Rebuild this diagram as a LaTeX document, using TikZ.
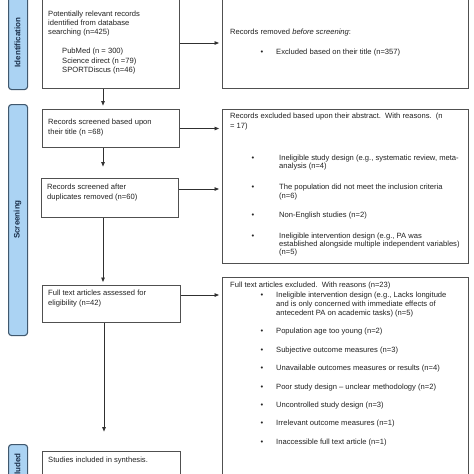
\documentclass[tikz,border=0pt]{standalone}
\usepackage{fontspec}
\setmainfont{Liberation Sans}
\usetikzlibrary{arrows.meta}
\definecolor{tabfill}{HTML}{ABD3F3}
\definecolor{tabline}{HTML}{40586E}
\definecolor{tabtext}{HTML}{1B2F4A}
\definecolor{boxline}{HTML}{505050}
\definecolor{arrowc}{HTML}{303030}
\definecolor{txtc}{HTML}{222222}
\begin{document}
\begin{tikzpicture}[x=1pt,y=-1pt,
  box/.style={draw=boxline, line width=1pt, fill=white, inner sep=0pt, anchor=north west},
  tabbox/.style={draw=tabline, fill=tabfill, line width=1.1pt, rounded corners=3pt, inner sep=0pt, anchor=north west, minimum width=19pt},
  tablabel/.style={rotate=90, inner sep=0pt, text=tabtext, font=\fontsize{8}{9}\selectfont\bfseries},
  txt/.style={anchor=base west, inner sep=0pt, text=txtc, font=\fontsize{7.6}{9}\selectfont},
  bul/.style={anchor=base, inner sep=0pt, text=txtc, font=\fontsize{7.6}{9}\selectfont},
  arr/.style={draw=arrowc, line width=0.9pt, -{Latex[length=5pt,width=4.2pt]}},
]
\useasboundingbox (0,0) rectangle (474,474);
\clip (0,0) rectangle (474,474);

% phase tabs
\node[tabbox, minimum height=99pt] (tab1) at (8,-10) {};
\node[tabbox, minimum height=231pt] (tab2) at (8,104) {};
\node[tabbox, minimum height=52pt] (tab3) at (8,444) {};
\node[tablabel] (tl1) at (17.5,42.5) {Identification};
\node[tablabel] (tl2) at (17.5,219.5) {Screening};
\node[tablabel] (tl3) at (17.5,470) {Included};

% left boxes
\node[box, minimum width=137pt, minimum height=91pt] (b1) at (42,-3) {};
\node[box, minimum width=137pt, minimum height=38pt] (b2) at (42,109) {};
\node[box, minimum width=137pt, minimum height=39pt] (b3) at (41,178) {};
\node[box, minimum width=138pt, minimum height=37pt] (b4) at (42,285) {};
\node[box, minimum width=138pt, minimum height=49pt] (b5) at (42,451) {};
% right boxes
\node[box, minimum width=246pt, minimum height=91pt] (r1) at (222,-3) {};
\node[box, minimum width=246pt, minimum height=154pt] (r2) at (222,109) {};
\node[box, minimum width=246pt, minimum height=223pt] (r3) at (222,277) {};

% texts box 1
\node[txt] (b1a) at (48,16.3) {Potentially relevant records};
\node[txt] (b1b) at (48,25.5) {identified from database};
\node[txt] (b1c) at (48,34.7) {searching (n=425)};
\node[txt] (b1d) at (62,53.7) {PubMed (n = 300)};
\node[txt] (b1e) at (62,63.2) {Science direct (n =79)};
\node[txt] (b1f) at (62,72.7) {SPORTDiscus (n=46)};
% r1
\node[txt] (r1a) at (230,34.7) {Records removed \textit{before screening}:};
\node[bul] (r1b) at (262,54.3) {•};
\node[txt] (r1c) at (276,54.3) {Excluded based on their title (n=357)};
% b2, b3
\node[txt] (b2a) at (48,124.7) {Records screened based upon};
\node[txt] (b2b) at (48,134.7) {their title (n =68)};
\node[txt] (b3a) at (47,189.7) {Records screened after};
\node[txt] (b3b) at (47,199.3) {duplicates removed (n=60)};
% r2
\node[txt] (r2a) at (230,118.7) {Records excluded based upon their abstract.\ \ With reasons.\ \ (n};
\node[txt] (r2b) at (230,128.7) {= 17)};
\node[bul] (r2c1) at (253,160.3) {•};
\node[txt] (r2c) at (279,160.3) {Ineligible study design (e.g., systematic review, meta-};
\node[txt] (r2d) at (279,168.9) {analysis (n=4)};
\node[bul] (r2e1) at (253,189.3) {•};
\node[txt] (r2e) at (279,189.3) {The population did not meet the inclusion criteria};
\node[txt] (r2f) at (279,198) {(n=6)};
\node[bul] (r2g1) at (253,217) {•};
\node[txt] (r2g) at (279,217) {Non-English studies (n=2)};
\node[bul] (r2h1) at (253,238) {•};
\node[txt] (r2h) at (279,238) {Ineligible intervention design (e.g., PA was};
\node[txt] (r2i) at (279,246.4) {established alongside multiple independent variables)};
\node[txt] (r2j) at (279,254.8) {(n=5)};
% b4
\node[txt] (b4a) at (48,295.3) {Full text articles assessed for};
\node[txt] (b4b) at (48,305.3) {eligibility (n=42)};
% r3
\node[txt] (r3a) at (230,287) {Full text articles excluded.\ \ With reasons (n=23)};
\node[bul] (r3b1) at (262,297) {•};
\node[txt] (r3b) at (276,297) {Ineligible intervention design (e.g., Lacks longitude};
\node[txt] (r3c) at (276,306) {and is only concerned with immediate effects of};
\node[txt] (r3d) at (276,315) {antecedent PA on academic tasks) (n=5)};
\node[bul] (r3e1) at (262,333.5) {•};
\node[txt] (r3e) at (276,333.5) {Population age too young (n=2)};
\node[bul] (r3f1) at (262,352) {•};
\node[txt] (r3f) at (276,352) {Subjective outcome measures (n=3)};
\node[bul] (r3g1) at (262,370.5) {•};
\node[txt] (r3g) at (276,370.5) {Unavailable outcomes measures or results (n=4)};
\node[bul] (r3h1) at (262,389) {•};
\node[txt] (r3h) at (276,389) {Poor study design – unclear methodology (n=2)};
\node[bul] (r3i1) at (262,407.5) {•};
\node[txt] (r3i) at (276,407.5) {Uncontrolled study design (n=3)};
\node[bul] (r3j1) at (262,425.7) {•};
\node[txt] (r3j) at (276,425.7) {Irrelevant outcome measures (n=1)};
\node[bul] (r3k1) at (262,444) {•};
\node[txt] (r3k) at (276,444) {Inaccessible full text article (n=1)};
% b5
\node[txt] (b5a) at (48,462) {Studies included in synthesis.};

% connector guides
\coordinate (va) at (103,0);
\coordinate (vb) at (104,0);
\coordinate (h3) at (0,189);
\coordinate (h4) at (0,295);
\coordinate (e2) at (103,167);
\coordinate (e4) at (104,432);

% vertical arrows
\draw[arr, shorten >=3pt] (b1.south -| va) -- (b2.north -| va);
\draw[arr] (b2.south -| va) -- (e2);
\draw[arr, shorten >=2.5pt] (b3.south -| va) -- (b4.north -| va);
\draw[arr] (b4.south -| vb) -- (e4);
% horizontal arrows
\draw[arr, shorten >=2.5pt] (b1.east) -- (b1.east -| r1.west);
\draw[arr, shorten >=2.5pt] (b2.east) -- (b2.east -| r2.west);
\draw[arr, shorten >=2.5pt] (b3.east |- h3) -- (r2.west |- h3);
\draw[arr, shorten >=2.5pt] (b4.east |- h4) -- (r3.west |- h4);
\end{tikzpicture}
\end{document}
